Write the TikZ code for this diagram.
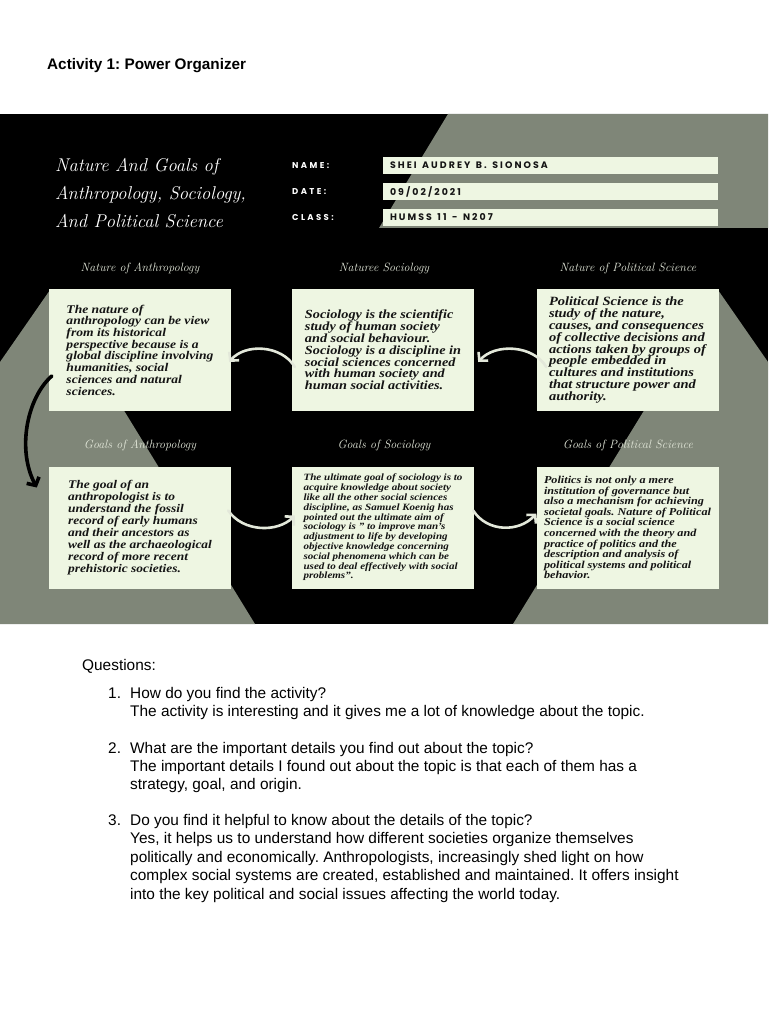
\documentclass[tikz,border=0pt]{standalone}
\usepackage{fontspec}
\usetikzlibrary{arrows.meta,calc}
\newfontfamily\arialf{Liberation Sans}
\newfontfamily\cardfont[FakeStretch=1.15]{Liberation Serif}
\newfontfamily\hdrfont[LetterSpace=28]{Poppins}
\newfontfamily\valfont[LetterSpace=22]{Poppins}
\newcommand\cardsz[2]{\cardfont\bfseries\itshape\fontsize{#1}{#2}\selectfont}
\newcommand\vsp{\hspace*{5.5pt}}
\definecolor{panel}{HTML}{000000}
\definecolor{slate}{HTML}{7F8678}
\definecolor{boxfill}{HTML}{EEF6E2}
\definecolor{pale}{HTML}{E3E8DA}
\definecolor{ink}{HTML}{141414}
\frenchspacing
\tikzset{
  card/.style={fill=boxfill, minimum width=182pt, minimum height=122pt, align=left, inner sep=0pt, text=ink},
  vbox/.style={fill=boxfill, minimum width=335pt, minimum height=17pt, text width=321pt, inner xsep=7pt, inner ysep=0pt, align=left, text=ink, font=\valfont\bfseries\fontsize{9.4}{10}\selectfont},
  hlab/.style={anchor=base west, text=white, font=\hdrfont\bfseries\fontsize{8.5}{10}\selectfont, inner sep=0pt},
  ttl/.style={anchor=base west, text=white, font=\itshape\fontsize{18.5}{22}\selectfont, inner sep=0pt},
  lbl/.style={text=pale, font=\itshape\fontsize{12}{14}\selectfont, inner sep=0pt},
  qtxt/.style={anchor=base west, inner sep=0pt, font=\arialf\fontsize{15.4}{18}\selectfont},
  larrow/.style={draw=pale, line width=2.6pt, line cap=round, -{Straight Barb[length=6pt,width=13pt]}},
  barrow/.style={draw=black, line width=3.6pt, line cap=round, -{Straight Barb[length=6pt,width=14pt]}}
}
\begin{document}
\begin{tikzpicture}[x=1pt,y=-1pt]
\useasboundingbox[fill=white] (0,0) rectangle (768,1024);
\node[anchor=base west, inner sep=0pt, font=\arialf\bfseries\fontsize{15.3}{17}\selectfont] (act) at (47,70) {Activity 1: Power Organizer};
% background panel
\fill[panel] (0,114) rectangle (768,624);
\fill[slate] (448,114) -- (768,114) -- (768,228) -- (379,228) -- cycle;
\fill[slate] (50,290) -- (255,624) -- (0,624) -- (0,362) -- cycle;
\fill[slate] (718,290) -- (768,362) -- (768,624) -- (513,624) -- cycle;
% title
\node[ttl] (t1) at (55,172) {Nature And Goals of};
\node[ttl] (t2) at (55,199.5) {Anthropology, Sociology,};
\node[ttl] (t3) at (55,227) {And Political Science};
% header
\node[hlab] (nl) at (292,169) {NAME:};
\node[hlab] (dl) at (292,194.5) {DATE:};
\node[hlab] (cl) at (292,220.5) {CLASS:};
\node[vbox] (nv) at (550.5,165.5) {SHEI\vsp AUDREY\vsp B.\vsp SIONOSA};
\node[vbox] (dv) at (550.5,191.5) {09/02/2021};
\node[vbox] (cv) at (550.5,217.5) {HUMSS\vsp 11\vsp -\vsp N207};
% labels
\node[lbl] (la1) at (140,268) {Nature of Anthropology};
\node[lbl] (lb1) at (384,268) {Naturee Sociology};
\node[lbl] (lc1) at (628,268) {Nature of Political Science};
\node[lbl] (la2) at (140,445) {Goals of Anthropology};
\node[lbl] (lb2) at (384,445) {Goals of Sociology};
\node[lbl] (lc2) at (628,445) {Goals of Political Science};
% cards
\node[card, font=\cardsz{11.8}{11.7}] (A1) at (140,350) {The nature of\\anthropology can be view\\from its historical\\perspective because is a\\global discipline involving\\humanities, social\\sciences and natural\\sciences.};
\node[card, font=\cardsz{12.4}{11.8}] (B1) at (383,350) {Sociology is the scientific\\study of human society\\and social behaviour.\\Sociology is a discipline in\\social sciences concerned\\with human society and\\human social activities.};
\node[card, font=\cardsz{12.6}{11.8}] (C1) at (627.5,350) {Political Science is the\\study of the nature,\\causes, and consequences\\of collective decisions and\\actions taken by groups of\\people embedded in\\cultures and institutions\\that structure power and\\authority.};
\node[card, font=\cardsz{11.7}{12}] (A2) at (140,527.5) {The goal of an\\anthropologist is to\\understand the fossil\\record of early humans\\and their ancestors as\\well as the archaeological\\record of more recent\\prehistoric societies.};
\node[card, font=\cardsz{9.6}{9.8}] (B2) at (383,527.5) {The ultimate goal of sociology is to\\acquire knowledge about society\\like all the other social sciences\\discipline, as Samuel Koenig has\\pointed out the ultimate aim of\\sociology is ” to improve man’s\\adjustment to life by developing\\objective knowledge concerning\\social phenomena which can be\\used to deal effectively with social\\problems”.};
\node[card, font=\cardsz{10.6}{10.6}] (C2) at (627.5,527.5) {Politics is not only a mere\\institution of governance but\\also a mechanism for achieving\\societal goals. Nature of Political\\Science is a social science\\concerned with the theory and\\practice of politics and the\\description and analysis of\\political systems and political\\behavior.};
% arrows
\draw[larrow] ($(B1.west)+(3,17)$) .. controls ($(B1.west)+(-10,-5)$) and ($(A1.east)+(14,-7)$) .. ($(A1.east)+(-2,12)$);
\draw[larrow] ($(C1.west)+(10,17)$) .. controls ($(C1.west)+(-3,-5)$) and ($(B1.east)+(21,-7)$) .. ($(B1.east)+(4,12)$);
\draw[larrow] ($(A2.east)+(-3,-17)$) .. controls ($(A2.east)+(12,5)$) and ($(B2.west)+(-14,5)$) .. ($(B2.west)+(3,-12)$);
\draw[larrow] ($(B2.east)+(-1,-17)$) .. controls ($(B2.east)+(13,5)$) and ($(C2.west)+(-17,5)$) .. ($(C2.west)+(0,-14)$);
\draw[barrow] ($(A1.west)+(3,26)$) .. controls ($(A1.west)+(-22,48)$) and ($(A1.west)+(-32,100)$) .. ($(A2.west)+(-12,-40)$);
% questions
\node[qtxt] (q0) at (82,670) {Questions:};
\node[qtxt] (n1) at (108,698) {1.};
\node[qtxt] (q1a) at (130,698) {How do you find the activity?};
\node[qtxt] (q1b) at (130,716) {The activity is interesting and it gives me a lot of knowledge about the topic.};
\node[qtxt] (n2) at (108,753) {2.};
\node[qtxt] (q2a) at (130,753) {What are the important details you find out about the topic?};
\node[qtxt] (q2b) at (130,771) {The important details I found out about the topic is that each of them has a};
\node[qtxt] (q2c) at (130,789.5) {strategy, goal, and origin.};
\node[qtxt] (n3) at (108,825) {3.};
\node[qtxt] (q3a) at (130,825) {Do you find it helpful to know about the details of the topic?};
\node[qtxt] (q3b) at (130,843.5) {Yes, it helps us to understand how different societies organize themselves};
\node[qtxt] (q3c) at (130,862) {politically and economically. Anthropologists, increasingly shed light on how};
\node[qtxt] (q3d) at (130,880.5) {complex social systems are created, established and maintained. It offers insight};
\node[qtxt] (q3e) at (130,899) {into the key political and social issues affecting the world today.};
\end{tikzpicture}
\end{document}
